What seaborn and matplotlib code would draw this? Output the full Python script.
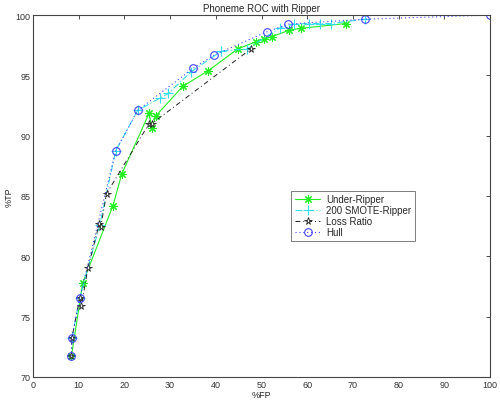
import matplotlib
matplotlib.use('Agg')
import matplotlib.pyplot as plt
import seaborn as sns
import pandas as pd

# ROC points (%FP, %TP)
under_fp = [8.4, 10.9, 17.5, 19.4, 25.4, 26.0, 26.9, 32.8, 38.4, 44.8, 48.9, 50.6, 52.2, 56.1, 58.6, 68.4]
under_tp = [71.7, 77.8, 84.2, 86.8, 91.85, 90.65, 91.65, 94.1, 95.4, 97.2, 97.8, 98.0, 98.2, 98.75, 98.9, 99.3]

smote_fp = [8.5, 10.2, 14.6, 18.1, 22.9, 27.7, 29.6, 34.6, 41.2, 46.9, 54.1, 57.1, 60.3, 62.8, 65.2, 72.7]
smote_tp = [73.2, 76.5, 82.6, 88.75, 92.1, 93.1, 93.5, 95.3, 97.0, 97.2, 98.95, 99.25, 99.3, 99.3, 99.3, 99.66]

loss_fp = [8.4, 8.5, 10.2, 10.6, 12.0, 14.5, 14.8, 16.1, 25.4, 26.0, 47.7]
loss_tp = [71.7, 73.2, 76.5, 75.9, 79.0, 82.7, 82.4, 85.2, 91.0, 91.0, 97.2]

hull_fp = [8.4, 8.5, 10.2, 18.1, 22.9, 35.1, 39.7, 51.1, 55.8, 72.7, 100.0]
hull_tp = [71.7, 73.2, 76.5, 88.75, 92.1, 95.6, 96.7, 98.6, 99.25, 99.66, 100.0]

sns.set_style('white')
plt.rcParams['font.family'] = ['Liberation Sans', 'DejaVu Sans']
plt.rcParams['font.size'] = 6.5

fig = plt.figure(figsize=(5.0, 4.02), dpi=100)
ax = fig.add_axes([0.066, 0.06, 0.914, 0.90])

series = [
    ('Under-Ripper', under_fp, under_tp,
     dict(color='#22ee22', linestyle='-', marker=(8, 2, 0), markersize=6, lw=0.8,
          markeredgecolor='#22ee22', markeredgewidth=0.8)),
    ('200 SMOTE-Ripper', smote_fp, smote_tp,
     dict(color='#33ddee', linestyle=(0, (6, 2, 1, 2)), marker='+', markersize=7, lw=0.8,
          markeredgecolor='#33ddee', markeredgewidth=0.8)),
    ('Loss Ratio', loss_fp, loss_tp,
     dict(color='#222222', linestyle=(0, (5, 3, 1, 3)), marker='*', markersize=5.5, lw=0.7,
          markerfacecolor='white', markeredgecolor='#222222', markeredgewidth=0.6)),
    ('Hull', hull_fp, hull_tp,
     dict(color='#4444ff', linestyle=(0, (1, 2.5)), marker='o', markersize=5.5, lw=0.8,
          markerfacecolor='none', markeredgecolor='#4444ff', markeredgewidth=0.8)),
]

for name, fp, tp, style in series:
    df = pd.DataFrame({'fp': fp, 'tp': tp})
    sns.lineplot(data=df, x='fp', y='tp', ax=ax, sort=False, label=name, **style)

ax.set_xlim(0, 100)
ax.set_ylim(70, 100)
ax.set_xticks(range(0, 101, 10))
ax.set_yticks(range(70, 101, 5))
ax.tick_params(direction='in', length=3, width=0.6, top=True, right=True,
               labelsize=6.5, pad=2, colors='#333333')
for sp in ax.spines.values():
    sp.set_visible(True)
    sp.set_color('#444444')
    sp.set_linewidth(0.8)

ax.set_xlabel('%FP', fontsize=6.5, labelpad=1)
ax.set_ylabel('%TP', fontsize=6.5, labelpad=1)
ax.set_title('Phoneme ROC with Ripper', fontsize=7, pad=3)

leg = ax.legend(loc='upper left', bbox_to_anchor=(0.565, 0.515), fontsize=7, numpoints=1,
                frameon=True, fancybox=False, borderpad=0.4, labelspacing=0.1,
                handlelength=2.6, handletextpad=0.6, borderaxespad=0)
leg.get_frame().set_edgecolor('#444444')
leg.get_frame().set_linewidth(0.6)

fig.savefig('out.png', dpi=100)
